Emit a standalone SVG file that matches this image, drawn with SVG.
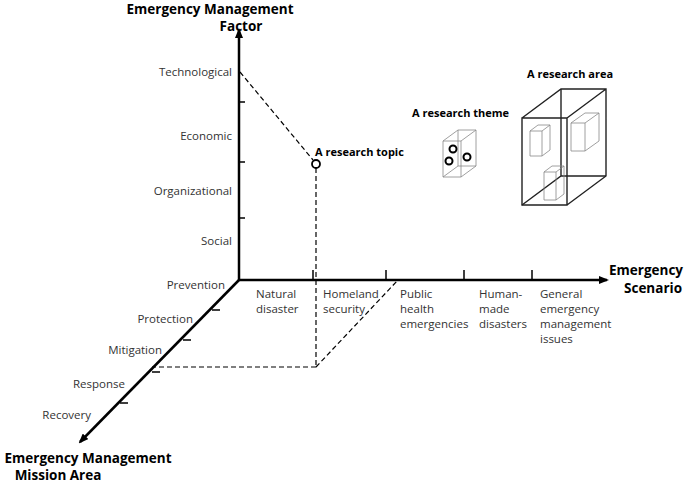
<svg xmlns="http://www.w3.org/2000/svg" width="685" height="484" viewBox="0 0 685 484">
<style>
text{font-family:"Open Sans","Liberation Sans",sans-serif;fill:#333;font-size:11.5px}
.b{font-weight:bold;fill:#000;font-size:13.5px}
.s{font-weight:bold;fill:#000;font-size:11px}
.ax{stroke:#000;stroke-width:2.5;fill:none}
.tk{stroke:#000;stroke-width:1.5;fill:none}
.d{stroke:#000;stroke-width:1.2;stroke-dasharray:5,3;fill:none}
.c{stroke:#888;stroke-width:0.8;fill:none}
.C{stroke:#222;stroke-width:1.4;fill:none}
</style>
<defs><marker id="ar" markerWidth="10" markerHeight="8" refX="8" refY="4" orient="auto" markerUnits="userSpaceOnUse"><path d="M0,0 L10,4 L0,8 z" fill="#000"/></marker></defs>
<g id="connectors">
<path class="ax" d="M239,280 V30" marker-end="url(#ar)"/>
<path class="ax" d="M239,280 H607" marker-end="url(#ar)"/>
<path class="ax" d="M239,280 L80,442" marker-end="url(#ar)"/>
<path class="tk" d="M239,102h6M239,162h6M239,218h6M313,280v-10M386,280v-10M464,280v-10M532,280v-10M212,310h8M183,340h8M152,372h8M120,403h8"/>
<path class="d" d="M240,72 L313,160 M316,168 V367 M316,367 H152 M316,367 L398,280"/>
</g>
<g id="labels">
<text class="b" x="210" y="14" text-anchor="middle">Emergency Management</text>
<text class="b" x="241" y="31" text-anchor="middle">Factor</text>
<text x="232" y="76" text-anchor="end">Technological</text>
<text x="232" y="140" text-anchor="end">Economic</text>
<text x="232" y="195" text-anchor="end">Organizational</text>
<text x="232" y="245" text-anchor="end">Social</text>
<text x="225" y="289" text-anchor="end">Prevention</text>
<text x="193" y="323" text-anchor="end">Protection</text>
<text x="162" y="354" text-anchor="end">Mitigation</text>
<text x="125" y="388" text-anchor="end">Response</text>
<text x="91" y="419" text-anchor="end">Recovery</text>
<text class="b" x="88" y="463" text-anchor="middle">Emergency Management</text>
<text class="b" x="58" y="480" text-anchor="middle">Mission Area</text>
<text class="b" x="646" y="275" text-anchor="middle">Emergency</text>
<text class="b" x="653" y="293" text-anchor="middle">Scenario</text>
<text x="256" y="298">Natural</text><text x="256" y="313">disaster</text>
<text x="323" y="298">Homeland</text><text x="323" y="313">security</text>
<text x="400" y="298">Public</text><text x="400" y="313">health</text><text x="400" y="328">emergencies</text>
<text x="479" y="298">Human-</text><text x="479" y="313">made</text><text x="479" y="328">disasters</text>
<text x="540" y="298">General</text><text x="540" y="313">emergency</text><text x="540" y="328">management</text><text x="540" y="343">issues</text>
<text class="s" x="315" y="156">A research topic</text>
<text class="s" x="412" y="117">A research theme</text>
<text class="s" x="527" y="78">A research area</text>
</g>
<g id="topic"><circle cx="316" cy="164" r="4" fill="#fff" stroke="#000" stroke-width="1.8"/></g>
<g id="theme">
<path class="c" d="M443,141 h18 v36 h-18 z M443,141 l15,-11 h18 v36 l-15,11 M461,141 l15,-11 M443,177 l15,-11 h18 M458,130 v36"/>
<circle cx="453" cy="149" r="3.5" fill="none" stroke="#000" stroke-width="2"/>
<circle cx="449" cy="161" r="3.5" fill="none" stroke="#000" stroke-width="2"/>
<circle cx="467" cy="157" r="3.5" fill="none" stroke="#000" stroke-width="2"/>
</g>
<g id="area">
<path class="C" d="M522,118 h45 v87 h-45 z M522,118 l39,-29 h45 v87 l-39,29 M567,118 l39,-29"/>
<path class="C" stroke-width="0.9" d="M522,205 l39,-29 h45 M561,89 v87"/>
<path class="c" d="M530,131 h12 v25 h-12 z M530,131 l8,-6 h12 v25 l-8,6 M542,131 l8,-6"/>
<path class="c" d="M571,123 h14 v28 h-14 z M571,123 l14,-10 h14 v28 l-14,10 M585,123 l14,-10"/>
<path class="c" d="M544,172 h12 v28 h-12 z M544,172 l8,-6 h12 v28 l-8,6 M556,172 l8,-6"/>
</g>
</svg>
